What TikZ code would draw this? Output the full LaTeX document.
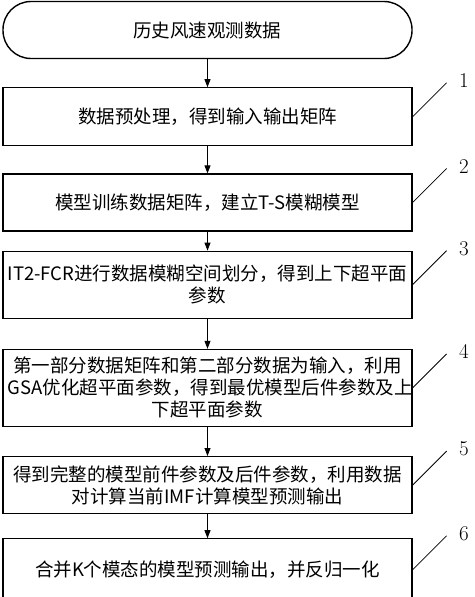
\documentclass[tikz,border=0pt]{standalone}
\usepackage{fontspec}
\newfontfamily\cjk{Noto Sans CJK SC}
\usetikzlibrary{positioning}
\usetikzlibrary{arrows.meta}

\begin{document}
\begin{tikzpicture}[
x=1pt,y=1pt,
stepbox/.style={
	% The shape:
	rectangle,
	% The size:
	minimum width=409pt,text width=400pt,align=center,inner sep=2pt,
	% The border:
	line width=1.2pt,draw=black,
	% Font
	font=\cjk\fontsize{18.5pt}{22pt}\selectfont},
terminal/.style={
	stepbox,rounded corners=28pt,line width=1.4pt},
numlabel/.style={
	inner sep=0pt,
	font=\fontsize{21pt}{21pt}\selectfont},
>={Triangle[length=8pt,width=6pt]}, line width=0.8pt, black,
]

\useasboundingbox (0,0) rectangle (474,-597);

\node (start) [terminal,minimum height=57pt] at (207.5,-30) {历史风速观测数据};
\node (s1) [stepbox,minimum height=58pt,below=28pt of start] {数据预处理，得到输入输出矩阵};
\node (s2) [stepbox,minimum height=57pt,below=27pt of s1] {模型训练数据矩阵，建立T-S模糊模型};
\node (s3) [stepbox,minimum height=67pt,below=19pt of s2] {IT2-FCR进行数据模糊空间划分，得到上下超平面\\参数};
\node (s4) [stepbox,minimum height=77pt,below=30pt of s3] {第一部分数据矩阵和第二部分数据为输入，利用\\GSA优化超平面参数，得到最优模型后件参数及上\\下超平面参数};
\node (s5) [stepbox,minimum height=57pt,below=29pt of s4] {得到完整的模型前件参数及后件参数，利用数据\\对计算当前IMF计算模型预测输出};
\node (s6) [stepbox,minimum height=62pt,below=24pt of s5] {合并K个模态的模型预测输出，并反归一化};

\foreach \a/\b in {start/s1,s1/s2,s2/s3,s3/s4,s4/s5,s5/s6}
	\draw[->] (\a) -- (\b);

% step numbers
\foreach \i in {1,...,6}{
	\draw (s\i.east) -- ++(34,34) coordinate (t\i);
	\node (n\i) [numlabel,right=12pt of t\i,yshift=2pt] {\i};
}

\end{tikzpicture}
\end{document}
